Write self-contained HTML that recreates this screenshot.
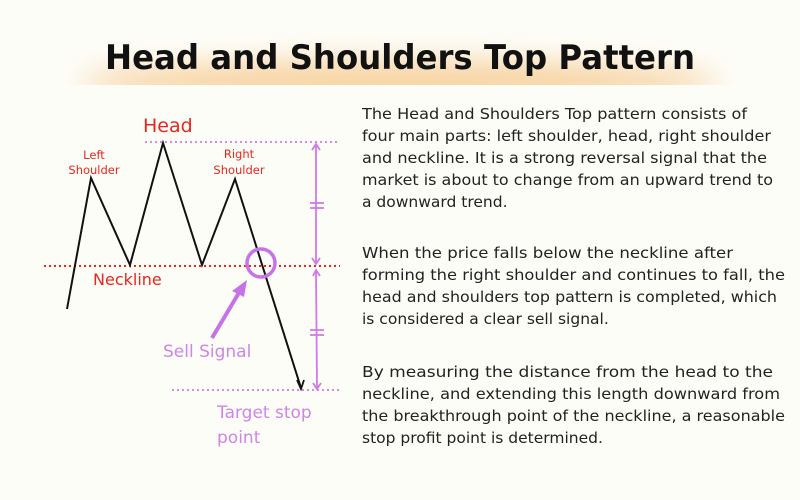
<!DOCTYPE html>
<html><head><meta charset="utf-8"><style>
html,body{margin:0;padding:0;background:#fdfdf8;}
svg{display:block;}
</style></head><body>
<svg width="800" height="500" xmlns="http://www.w3.org/2000/svg">
<defs>
<filter id="b" x="-20%" y="-200%" width="140%" height="500%"><feGaussianBlur stdDeviation="14"/></filter>
<clipPath id="c"><rect x="0" y="0" width="800" height="85"/></clipPath>
</defs>
<rect width="800" height="500" fill="#fdfdf8"/>
<g clip-path="url(#c)">
<ellipse cx="400" cy="82" rx="320" ry="22" fill="#f7d3a2" filter="url(#b)"/>
</g>
<text x="400" y="69" text-anchor="middle" font-family="DejaVu Sans, sans-serif" font-weight="bold" font-size="34" textLength="590" lengthAdjust="spacingAndGlyphs" fill="#111">Head and Shoulders Top Pattern</text>

<g stroke-dasharray="2,3" stroke-width="2">
<line x1="145" y1="142" x2="340" y2="142" stroke="#d48ae8"/>
<line x1="44" y1="266" x2="340" y2="266" stroke="#e8261e"/>
<line x1="172" y1="390" x2="340" y2="390" stroke="#d48ae8"/>
</g>
<g stroke="#cf7ae8" stroke-width="1.8" fill="none">
<line x1="316" y1="144" x2="316" y2="264"/>
<polyline points="312,150 316,144 320,150"/>
<polyline points="312,258 316,264 320,258"/>
<line x1="316" y1="270" x2="317" y2="389"/>
<polyline points="313,276 316,270 320,276"/>
<polyline points="313,383 317,389 321,383"/>
<line x1="310" y1="203" x2="324" y2="203"/><line x1="310" y1="208" x2="324" y2="208"/>
<line x1="310" y1="330" x2="324" y2="330"/><line x1="310" y1="335" x2="324" y2="335"/>
</g>
<polyline points="67,309 91,178 130,265 163,143 202,265 235,179 301,388" fill="none" stroke="#111" stroke-width="2"/>
<polyline points="297,380 301,389 304,380" fill="none" stroke="#111" stroke-width="1.8"/>
<circle cx="261" cy="263" r="14" fill="none" stroke="#c772e6" stroke-width="3.5"/>
<line x1="212" y1="338" x2="240" y2="291" stroke="#c772e6" stroke-width="4"/>
<polygon points="247,280 232,291 244,297" fill="#c772e6"/>
<g font-family="DejaVu Sans, sans-serif" fill="#e8261e">
<text x="143" y="132" font-size="19">Head</text>
<text x="94" y="159" font-size="11.5" text-anchor="middle">Left</text>
<text x="94" y="174" font-size="11.5" text-anchor="middle">Shoulder</text>
<text x="239" y="158" font-size="11.5" text-anchor="middle">Right</text>
<text x="239" y="174" font-size="11.5" text-anchor="middle">Shoulder</text>
<text x="93" y="285" font-size="16">Neckline</text>
</g>
<g font-family="DejaVu Sans, sans-serif" fill="#cf84e8" font-size="17">
<text x="163" y="357">Sell Signal</text>
<text x="217" y="418">Target stop</text>
<text x="217" y="443">point</text>
</g>
<g font-family="DejaVu Sans, sans-serif" font-size="15.5" fill="#222">
<text x="362" y="119" textLength="385" lengthAdjust="spacingAndGlyphs">The Head and Shoulders Top pattern consists of</text>
<text x="362" y="141" textLength="409" lengthAdjust="spacingAndGlyphs">four main parts: left shoulder, head, right shoulder</text>
<text x="362" y="163" textLength="405" lengthAdjust="spacingAndGlyphs">and neckline. It is a strong reversal signal that the</text>
<text x="362" y="185" textLength="411" lengthAdjust="spacingAndGlyphs">market is about to change from an upward trend to</text>
<text x="362" y="207">a downward trend.</text>
<text x="362" y="258" textLength="371" lengthAdjust="spacingAndGlyphs">When the price falls below the neckline after</text>
<text x="362" y="280" textLength="423" lengthAdjust="spacingAndGlyphs">forming the right shoulder and continues to fall, the</text>
<text x="362" y="302" textLength="415" lengthAdjust="spacingAndGlyphs">head and shoulders top pattern is completed, which</text>
<text x="362" y="324">is considered a clear sell signal.</text>
<text x="362" y="377" textLength="411" lengthAdjust="spacingAndGlyphs">By measuring the distance from the head to the</text>
<text x="362" y="399" textLength="418" lengthAdjust="spacingAndGlyphs">neckline, and extending this length downward from</text>
<text x="362" y="421" textLength="423" lengthAdjust="spacingAndGlyphs">the breakthrough point of the neckline, a reasonable</text>
<text x="362" y="443">stop profit point is determined.</text>
</g>
</svg>
</body></html>
